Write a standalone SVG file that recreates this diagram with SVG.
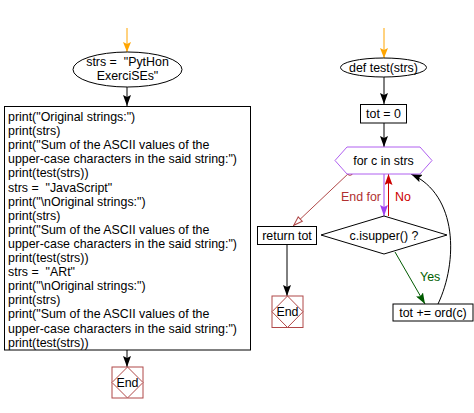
<svg xmlns="http://www.w3.org/2000/svg" width="474" height="413" viewBox="0 0 474 413">
<style>
text{font-family:"Liberation Sans",Arial,sans-serif;font-size:12.4px;fill:#000;white-space:pre}
.c{text-anchor:middle}
.box{fill:#fff;stroke:#000;stroke-width:1}
.end{fill:#fff;stroke:#b04848;stroke-width:1}
.ln{fill:none;stroke-width:1}
</style>
<defs>
<marker id="aOr" markerWidth="10" markerHeight="8" refX="10" refY="4" orient="auto" markerUnits="userSpaceOnUse"><path d="M0,0 L10,4 L0,8 L2,4 Z" fill="#ffa500"/></marker>
<marker id="aB" markerWidth="11" markerHeight="8" refX="11" refY="4" orient="auto" markerUnits="userSpaceOnUse"><path d="M0,0 L11,4 L0,8 L2,4 Z" fill="#000"/></marker>
<marker id="aP" markerWidth="11" markerHeight="8" refX="11" refY="4" orient="auto" markerUnits="userSpaceOnUse"><path d="M0,0 L11,4 L0,8 L2,4 Z" fill="#a040f0"/></marker>
<marker id="aR" markerWidth="11" markerHeight="8" refX="11" refY="4" orient="auto" markerUnits="userSpaceOnUse"><path d="M0,0 L11,4 L0,8 L2,4 Z" fill="#cc0000"/></marker>
<marker id="aG" markerWidth="11" markerHeight="8" refX="11" refY="4" orient="auto" markerUnits="userSpaceOnUse"><path d="M0,0 L11,4 L0,8 L2,4 Z" fill="#005a00"/></marker>
<marker id="aOpen" markerWidth="11" markerHeight="8" refX="11" refY="4" orient="auto" markerUnits="userSpaceOnUse"><path d="M1,1 L10,4 L1,7 Z" fill="#fff" stroke="#b04848"/></marker>
<marker id="dot" markerWidth="8" markerHeight="8" refX="4" refY="4" orient="auto" markerUnits="userSpaceOnUse"><circle cx="4" cy="4" r="3" fill="#fff" stroke="#b04848"/></marker>
</defs>
<g id="connectors">
<line class="ln" x1="127" y1="28" x2="127" y2="52" stroke="#ffa500" marker-end="url(#aOr)"/>
<line class="ln" x1="127" y1="87" x2="127" y2="106" stroke="#000" marker-end="url(#aB)"/>
<line class="ln" x1="127" y1="350" x2="127" y2="367" stroke="#000" marker-end="url(#aB)"/>
<line class="ln" x1="384" y1="28" x2="384" y2="58" stroke="#ffa500" marker-end="url(#aOr)"/>
<line class="ln" x1="384" y1="77" x2="384" y2="104" stroke="#000" marker-end="url(#aB)"/>
<line class="ln" x1="384" y1="123" x2="384" y2="147" stroke="#000" marker-end="url(#aB)"/>
<line class="ln" x1="384" y1="174" x2="384" y2="216" stroke="#a040f0" marker-end="url(#aP)"/>
<line class="ln" x1="388.5" y1="216" x2="388.5" y2="174" stroke="#cc0000" marker-end="url(#aR)"/>
<line class="ln" x1="350" y1="172" x2="293" y2="226" stroke="#b04848" marker-start="url(#dot)" marker-end="url(#aOpen)"/>
<line class="ln" x1="287" y1="244" x2="287" y2="296" stroke="#000" marker-end="url(#aB)"/>
<line class="ln" x1="395" y1="252" x2="425" y2="304" stroke="#005a00" marker-end="url(#aG)"/>
<path class="ln" d="M438,304 C458,262 458,195 411,174" stroke="#000" marker-end="url(#aB)"/>
<text x="341" y="201" style="fill:#b03030">End for</text>
<text x="395" y="201" style="fill:#cc0000">No</text>
<text x="420" y="281" style="fill:#006000">Yes</text>
</g>
<g id="n_strs">
<ellipse class="box" cx="127.5" cy="69.5" rx="54.5" ry="17.5"/>
<text class="c" x="127.5" y="66">strs =  "PytHon</text>
<text class="c" x="127.5" y="80">ExerciSEs"</text>
</g>
<g id="n_main">
<rect class="box" x="4.5" y="106.5" width="246" height="243.5"/>
<text x="8" y="121">print("Original strings:")</text>
<text x="8" y="135.1">print(strs)</text>
<text x="8" y="149.2">print("Sum of the ASCII values of the</text>
<text x="8" y="163.3">upper-case characters in the said string:")</text>
<text x="8" y="177.4">print(test(strs))</text>
<text x="8" y="191.5">strs =  "JavaScript"</text>
<text x="8" y="205.6">print("\nOriginal strings:")</text>
<text x="8" y="219.7">print(strs)</text>
<text x="8" y="233.8">print("Sum of the ASCII values of the</text>
<text x="8" y="247.9">upper-case characters in the said string:")</text>
<text x="8" y="262">print(test(strs))</text>
<text x="8" y="276.1">strs =  "ARt"</text>
<text x="8" y="290.2">print("\nOriginal strings:")</text>
<text x="8" y="304.3">print(strs)</text>
<text x="8" y="318.4">print("Sum of the ASCII values of the</text>
<text x="8" y="332.5">upper-case characters in the said string:")</text>
<text x="8" y="346.6">print(test(strs))</text>
</g>
<g id="n_end1">
<rect class="end" x="112" y="367" width="31" height="31"/>
<path class="end" d="M127.5,367 L143,382.5 L127.5,398 L112,382.5 Z" fill="none"/>
<text class="c" x="127.5" y="387">End</text>
</g>
<g id="n_def">
<ellipse class="box" cx="383.5" cy="67.5" rx="43" ry="9.5"/>
<text class="c" x="383.5" y="71.5">def test(strs)</text>
</g>
<g id="n_tot0">
<rect class="box" x="360.5" y="104.5" width="46" height="18.5"/>
<text class="c" x="383.5" y="118">tot = 0</text>
</g>
<g id="n_for">
<path d="M335,160.5 L347,147 L420,147 L432,160.5 L420,174 L347,174 Z" fill="#fff" stroke="#b060f0"/>
<text class="c" x="383.5" y="165">for c in strs</text>
</g>
<g id="n_if">
<path class="box" d="M384,216 L447,235 L384,254 L321,235 Z"/>
<text class="c" x="384" y="239.5">c.isupper() ?</text>
</g>
<g id="n_ret">
<rect class="box" x="257.5" y="226.5" width="59" height="18"/>
<text class="c" x="287" y="240">return tot</text>
</g>
<g id="n_end2">
<rect class="end" x="272" y="296" width="31" height="31.5"/>
<path class="end" d="M287.5,296 L303,311.75 L287.5,327.5 L272,311.75 Z" fill="none"/>
<text class="c" x="287.5" y="316">End</text>
</g>
<g id="n_add">
<rect class="box" x="393" y="304" width="80" height="17"/>
<text class="c" x="433" y="317">tot += ord(c)</text>
</g>
</svg>
